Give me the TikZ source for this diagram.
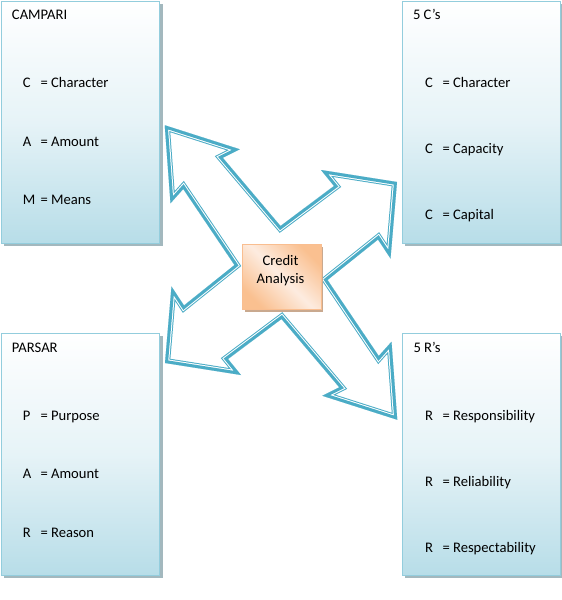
\documentclass[tikz,border=0pt]{standalone}
\usepackage{fontspec}
\setmainfont{Carlito}
\definecolor{arrowteal}{HTML}{4BACC6}
\definecolor{boxline}{HTML}{93CDDD}
\definecolor{boxbottom}{HTML}{B7DDE8}
\definecolor{boxmid}{HTML}{E6F3F7}
\definecolor{boxshadow}{HTML}{A3B8BE}
\definecolor{peach}{HTML}{FAC090}
\definecolor{peachlight}{HTML}{FDECE0}
\definecolor{peachline}{HTML}{F9BE90}
\definecolor{peachshadow}{HTML}{C9A98F}
\begin{document}
\begin{tikzpicture}[x=1pt,y=-1pt,
  txt/.style={anchor=base west, inner sep=0pt, outer sep=0pt, font=\fontsize{14.6}{17.5}\selectfont},
  ctxt/.style={anchor=base, inner sep=0pt, outer sep=0pt, font=\fontsize{14.6}{17.5}\selectfont},
  infobox/.style={draw=boxline, line width=1pt, top color=white, bottom color=boxbottom, middle color=boxmid,
    anchor=north west, minimum width=158pt, minimum height=242pt, inner sep=0pt, outer sep=0pt},
  centerbox/.style={draw=peachline, line width=1pt, top color=peach, bottom color=peach, middle color=peachlight,
    shading angle=-45, anchor=north west, minimum width=78.5pt, minimum height=65pt, inner sep=0pt, outer sep=0pt},
  arrowstroke/.style={line join=miter, miter limit=20}
]
\useasboundingbox[fill=white] (0,0) rectangle (562,600);

% ---------- four information boxes ----------
\fill[boxshadow] (4,4) rectangle (162.5,246);
\fill[boxshadow] (405,4) rectangle (563,246);
\fill[boxshadow] (4,336) rectangle (162.5,578);
\fill[boxshadow] (405,336) rectangle (563,578);
\node[infobox] (camp) at (1.5,1.5) {};
\node[infobox] (fivec) at (402.5,1.5) {};
\node[infobox] (parsar) at (1.5,333.5) {};
\node[infobox] (fiver) at (402.5,333.5) {};

% ---------- cross arrow shape ----------
\coordinate (T1) at (164.75,125.25);
\coordinate (B1r) at (239.75,149.25);
\coordinate (I1r) at (222.75,157.75);
\coordinate (Ntop) at (280.5,226);
\coordinate (I2l) at (334,186);
\coordinate (B2l) at (321,170);
\coordinate (T2) at (397,182);
\coordinate (B2r) at (390.5,258.5);
\coordinate (I2r) at (378,239.5);
\coordinate (Nright) at (327.5,280);
\coordinate (I3r) at (378.75,356);
\coordinate (B3r) at (391.5,341.75);
\coordinate (T3) at (397.25,419.75);
\coordinate (B3l) at (322.25,395.75);
\coordinate (I3l) at (339.25,387.25);
\coordinate (Nbot) at (281.5,319);
\coordinate (I4r) at (228,359);
\coordinate (B4r) at (241,375);
\coordinate (T4) at (165,363);
\coordinate (B4l) at (171.5,286.5);
\coordinate (I4l) at (184,305.5);
\coordinate (Nleft) at (234.5,265);
\coordinate (I1l) at (183.25,189);
\coordinate (B1l) at (170.5,203.25);

\path[save path=\arrowp] (T1) -- (B1r) -- (I1r) -- (Ntop) -- (I2l) -- (B2l) -- (T2) -- (B2r) -- (I2r)
  -- (Nright) -- (I3r) -- (B3r) -- (T3) -- (B3l) -- (I3l) -- (Nbot) -- (I4r) -- (B4r) -- (T4)
  -- (B4l) -- (I4l) -- (Nleft) -- (I1l) -- (B1l) -- cycle;
\begin{scope}
  \clip[use path=\arrowp];
  \fill[white, use path=\arrowp];
  \draw[arrowstroke, arrowteal, line width=10pt, use path=\arrowp];
  \draw[arrowstroke, white, line width=8pt, use path=\arrowp];
  \draw[arrowstroke, arrowteal, line width=6pt, use path=\arrowp];
\end{scope}

% ---------- centre box ----------
\fill[peachshadow] (244.5,246.5) rectangle (323,311.5);
\node[centerbox] (credit) at (242.5,244.5) {};
\node[ctxt] (credit1) at (280.5,265) {Credit};
\node[ctxt] (credit2) at (280.5,283.3) {Analysis};

% ---------- texts: CAMPARI ----------
\node[txt] (campT) at (12,19.5) {CAMPARI};
\node[txt] (campA1) at (23,87) {C};
\node[txt] (campB1) at (40.5,87) {= Character};
\node[txt] (campA2) at (23,146.5) {A};
\node[txt] (campB2) at (40.5,146.5) {= Amount};
\node[txt] (campA3) at (23,204.5) {M};
\node[txt] (campB3) at (40.5,204.5) {= Means};

% ---------- texts: 5 C's ----------
\node[txt] (fivecT) at (413,19.5) {5 C’s};
\node[txt] (fivecA1) at (425,87.5) {C};
\node[txt] (fivecB1) at (442.5,87.5) {= Character};
\node[txt] (fivecA2) at (425,153.5) {C};
\node[txt] (fivecB2) at (442.5,153.5) {= Capacity};
\node[txt] (fivecA3) at (425,219.5) {C};
\node[txt] (fivecB3) at (442.5,219.5) {= Capital};

% ---------- texts: PARSAR ----------
\node[txt] (parsarT) at (12,352) {PARSAR};
\node[txt] (parsarA1) at (23,420) {P};
\node[txt] (parsarB1) at (40.5,420) {= Purpose};
\node[txt] (parsarA2) at (23,478.5) {A};
\node[txt] (parsarB2) at (40.5,478.5) {= Amount};
\node[txt] (parsarA3) at (23,537) {R};
\node[txt] (parsarB3) at (40.5,537) {= Reason};

% ---------- texts: 5 R's ----------
\node[txt] (fiverT) at (413.5,352.5) {5 R’s};
\node[txt] (fiverA1) at (425,420.5) {R};
\node[txt] (fiverB1) at (442.5,420.5) {= Responsibility};
\node[txt] (fiverA2) at (425,486.5) {R};
\node[txt] (fiverB2) at (442.5,486.5) {= Reliability};
\node[txt] (fiverA3) at (425,552.5) {R};
\node[txt] (fiverB3) at (442.5,552.5) {= Respectability};
\end{tikzpicture}
\end{document}
